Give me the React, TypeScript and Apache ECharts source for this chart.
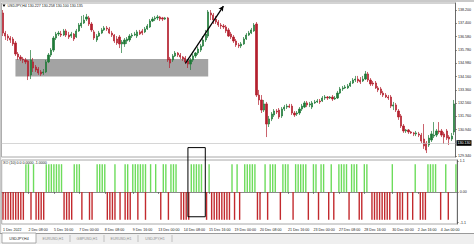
import { useEffect, useRef } from "react";
import * as echarts from "echarts";

const FONT = "'Liberation Sans', Arial, sans-serif";

const SYMBOL_TITLE = "USDJPY,H4 130.227 130.258 130.100 130.135";
const XO_TITLE = "XO (10) 0.0 0.0000 -1.0000";
const BID_PRICE = 130.13;

// H4 candles, oldest first
const OPEN = [
  138.02, 136.80, 136.62, 136.50, 136.44, 136.20, 135.53, 135.35, 135.23, 135.17,
  135.11, 134.26, 135.05, 134.74, 134.62, 134.44, 134.38, 134.44, 135.05, 135.47,
  135.77, 136.50, 136.74, 136.74, 136.68, 136.93, 136.68, 136.62, 136.74, 136.56,
  136.93, 137.23, 137.41, 137.65, 137.72, 137.35, 136.87, 136.38, 136.62, 136.80,
  136.99, 137.11, 137.05, 136.80, 136.68, 136.44, 136.56, 136.14, 136.14, 136.32,
  136.38, 136.62, 136.68, 136.62, 136.87, 136.93, 136.87, 137.05, 137.17, 137.53,
  137.65, 137.72, 137.78, 137.72, 137.65, 137.72, 135.23, 135.17, 135.41, 135.59,
  135.47, 135.35, 135.29, 135.11, 134.92, 135.17, 135.41, 135.59, 135.77, 136.02,
  136.38, 136.62, 138.02, 137.90, 137.65, 137.47, 137.29, 137.23, 137.17, 136.99,
  136.74, 136.56, 136.32, 136.08, 136.02, 136.14, 136.44, 136.68, 136.80, 136.93,
  137.35, 133.04, 132.74, 132.13, 132.50, 131.28, 131.59, 131.83, 132.07, 132.13,
  131.77, 132.19, 132.31, 132.37, 132.37, 131.95, 131.89, 131.95, 132.19, 132.31,
  132.56, 132.44, 132.31, 132.56, 132.62, 132.68, 132.68, 132.86, 132.92, 132.86,
  132.92, 132.80, 132.86, 133.16, 133.41, 133.47, 133.47, 133.59, 133.77, 133.95,
  134.01, 133.95, 133.89, 134.01, 134.32, 133.95, 133.77, 133.77, 133.47, 133.41,
  133.16, 133.04, 132.92, 132.92, 132.37, 132.44, 132.07, 131.77, 131.16, 130.86,
  130.92, 130.80, 130.74, 130.68, 130.68, 130.61, 130.37, 130.13, 130.01, 130.31,
  130.55, 130.61, 130.86, 130.86, 130.68, 130.86, 130.49, 130.37, 130.80,
];
const CLOSE = [
  136.80, 136.62, 136.50, 136.38, 136.14, 135.53, 135.35, 135.23, 135.17, 135.05,
  134.20, 135.17, 134.68, 134.56, 134.38, 134.32, 134.44, 135.05, 135.47, 135.77,
  136.50, 136.74, 136.80, 136.68, 136.93, 136.68, 136.56, 136.74, 136.44, 136.93,
  137.29, 137.41, 137.59, 137.78, 137.35, 136.99, 136.50, 136.62, 136.80, 136.99,
  137.11, 137.05, 136.80, 136.68, 136.32, 136.20, 136.14, 136.26, 136.38, 136.44,
  136.62, 136.68, 136.74, 136.87, 136.74, 136.80, 137.05, 137.23, 137.53, 137.65,
  137.72, 137.78, 137.65, 137.65, 137.72, 135.17, 134.98, 135.41, 135.59, 135.47,
  135.35, 135.23, 135.05, 134.92, 135.17, 135.41, 135.59, 135.83, 136.02, 136.38,
  136.74, 138.08, 137.90, 137.59, 137.47, 137.29, 137.23, 137.17, 136.93, 136.62,
  136.56, 136.32, 136.08, 136.02, 136.14, 136.44, 136.68, 136.80, 136.99, 137.29,
  133.04, 132.74, 132.13, 132.50, 131.28, 131.59, 131.89, 132.07, 132.01, 131.71,
  132.19, 132.31, 132.37, 132.31, 131.95, 131.83, 131.95, 132.19, 132.37, 132.56,
  132.44, 132.50, 132.56, 132.62, 132.68, 132.62, 132.86, 132.92, 132.86, 132.92,
  132.80, 132.86, 133.16, 133.41, 133.47, 133.53, 133.59, 133.77, 133.95, 134.01,
  133.89, 133.83, 134.01, 134.32, 133.95, 133.71, 133.71, 133.47, 133.35, 133.16,
  133.04, 132.92, 132.86, 132.37, 132.44, 132.13, 131.71, 131.16, 130.86, 130.92,
  130.80, 130.74, 130.68, 130.74, 130.61, 130.25, 129.95, 129.70, 130.43, 130.68,
  130.61, 130.86, 130.80, 130.61, 130.49, 130.43, 130.37, 130.55, 132.50,
];
const LOW = [
  136.62, 136.38, 136.32, 136.20, 136.02, 135.41, 135.17, 135.11, 134.98, 134.92,
  133.95, 134.01, 134.44, 134.44, 134.26, 134.20, 134.26, 134.38, 134.98, 135.35,
  135.65, 136.38, 136.62, 136.56, 136.62, 136.56, 136.44, 136.50, 136.32, 136.50,
  136.87, 137.11, 137.35, 137.53, 137.23, 136.87, 136.38, 136.26, 136.56, 136.74,
  136.93, 136.93, 136.74, 136.56, 136.20, 136.08, 135.89, 135.59, 135.96, 136.14,
  136.26, 136.50, 136.62, 136.50, 136.68, 136.68, 136.80, 136.99, 137.11, 137.47,
  137.53, 137.59, 137.53, 137.53, 137.59, 135.05, 134.68, 135.05, 135.35, 135.35,
  135.23, 135.11, 134.92, 134.68, 134.56, 135.05, 135.29, 135.47, 135.65, 135.96,
  136.26, 136.50, 137.59, 137.35, 137.35, 137.17, 137.05, 137.05, 136.80, 136.56,
  136.44, 136.20, 135.96, 135.89, 135.89, 136.08, 136.38, 136.62, 136.74, 136.87,
  132.92, 132.44, 131.95, 132.01, 130.49, 131.10, 131.46, 131.71, 131.89, 131.59,
  131.65, 132.07, 132.19, 132.25, 131.83, 131.71, 131.77, 131.83, 132.07, 132.25,
  132.31, 132.31, 132.19, 132.50, 132.56, 132.50, 132.62, 132.74, 132.74, 132.80,
  132.68, 132.74, 132.80, 133.10, 133.29, 133.41, 133.41, 133.53, 133.71, 133.83,
  133.77, 133.71, 133.83, 133.95, 133.83, 133.59, 133.59, 133.41, 133.22, 133.04,
  132.92, 132.86, 132.74, 132.25, 132.13, 132.01, 131.53, 131.04, 130.74, 130.74,
  130.68, 130.68, 130.55, 130.55, 130.49, 130.13, 129.77, 129.52, 129.89, 130.19,
  130.43, 130.49, 130.68, 130.49, 130.07, 130.31, 130.01, 130.25, 130.61,
];
const HIGH = [
  138.20, 136.93, 136.74, 136.62, 136.56, 136.32, 135.65, 135.47, 135.35, 135.29,
  135.17, 135.77, 135.29, 134.86, 134.74, 134.56, 134.62, 135.17, 135.59, 135.89,
  136.62, 136.87, 136.93, 136.93, 137.05, 137.05, 136.87, 136.87, 136.80, 137.05,
  137.41, 137.84, 137.90, 137.96, 137.84, 137.47, 136.99, 136.74, 136.93, 137.11,
  137.23, 137.23, 137.17, 136.93, 136.74, 136.62, 136.68, 136.38, 136.50, 136.56,
  136.74, 136.80, 136.87, 136.99, 136.99, 137.05, 137.17, 137.35, 137.65, 137.78,
  137.84, 137.90, 137.84, 137.78, 137.78, 137.78, 135.35, 135.53, 135.71, 135.65,
  135.59, 135.41, 135.41, 135.23, 135.29, 135.53, 135.65, 135.96, 136.14, 136.62,
  136.99, 138.20, 138.20, 138.02, 137.84, 137.59, 137.41, 137.35, 137.29, 137.11,
  136.87, 136.68, 136.44, 136.20, 136.26, 136.56, 136.80, 136.93, 137.11, 137.41,
  137.47, 133.35, 133.04, 132.74, 132.62, 131.77, 132.01, 132.19, 132.19, 132.25,
  132.31, 132.44, 132.50, 132.50, 132.50, 132.07, 132.07, 132.31, 132.50, 132.68,
  132.68, 132.62, 132.68, 132.74, 132.80, 132.80, 132.98, 133.04, 132.98, 132.98,
  133.04, 132.98, 133.29, 133.53, 133.59, 133.65, 133.71, 133.89, 134.07, 134.20,
  134.20, 134.13, 134.20, 134.50, 134.44, 134.07, 133.89, 133.89, 133.59, 133.53,
  133.29, 133.16, 133.04, 133.04, 132.62, 132.56, 132.19, 131.89, 131.28, 130.98,
  130.98, 130.86, 130.80, 130.86, 130.80, 130.74, 131.28, 130.25, 130.61, 130.86,
  131.40, 130.98, 131.40, 130.98, 130.80, 130.98, 130.61, 130.74, 132.74,
];

// XO indicator: bars where the up (+1) and down (-1) histograms are drawn
const XO_UP_BARS = [
  9, 10, 12, 17, 18, 19, 20, 21, 22, 23, 28, 29, 30, 37, 38, 39, 40, 44, 48, 49,
  51, 52, 53, 54, 55, 56, 58, 60, 63, 64, 66, 67, 68, 74, 75, 76, 77, 78, 81, 90,
  92, 95, 96, 97, 98, 99, 103, 105, 106, 107, 110, 111, 112, 115, 116, 117, 118,
  119, 122, 123, 125, 126, 129, 132, 133, 134, 135, 137, 138, 139, 142, 143, 153,
  162, 167, 168, 169, 170, 174, 178,
];
const XO_DOWN_BARS = [
  0, 1, 2, 3, 4, 5, 6, 7, 8, 11, 13, 14, 15, 16, 24, 25, 26, 27, 31, 34, 35, 41,
  42, 43, 44, 46, 48, 49, 50, 53, 56, 62, 65, 70, 71, 72, 73, 80, 82, 83, 84, 85,
  86, 87, 88, 89, 91, 93, 100, 101, 104, 109, 114, 120, 124, 128, 130, 136, 140,
  141, 145, 146, 147, 148, 149, 150, 151, 152, 155, 156, 157, 159, 161, 164, 165,
  166, 172, 175,
];
const XO_UP_VALUE = 1;
const XO_DOWN_VALUE = -1;

// axis ticks
const PRICE_TICKS = [138.2, 137.4, 136.58, 135.78, 134.98, 134.16, 133.36, 132.56, 131.76, 130.94, 129.34];
const XO_TICKS = [1.1, 0, -1.1];
const XO_TICK_LABELS = ["1.1", "0.00", "-1.1"];
const TIME_TICK_BARS = [0, 10, 20, 30, 40, 51, 61, 71, 81, 91, 101, 112, 122, 132, 142, 153, 163, 172];
const TIME_TICK_LABELS = [
  "1 Dec 2022", "2 Dec 08:00", "5 Dec 16:00", "7 Dec 00:00", "8 Dec 08:00", "9 Dec 16:00",
  "13 Dec 00:00", "14 Dec 08:00", "15 Dec 16:00", "19 Dec 00:00", "20 Dec 08:00", "21 Dec 16:00",
  "23 Dec 00:00", "27 Dec 08:00", "28 Dec 16:00", "30 Dec 00:00", "2 Jan 16:00", "4 Jan 00:00",
];

// drawn objects: support zone, breakout arrow, highlighted signal window
const ZONE_BARS = [5, 81];
const ZONE_PRICES = [135.23, 134.17];
const ARROW_BARS = [72, 87];
const ARROW_PRICES = [134.96, 138.44];
const FOCUS_BARS = [73, 79];
const FOCUS_TOP_PRICE = 129.85;
const FOCUS_BOTTOM_XO = -0.89;

const TABS = ["USDJPY,H4", "EURUSD,H1", "GBPUSD,H1", "EURUSD,H1", "USDJPY,H1"];

const UP_COLOR = "#1f7a38";
const DOWN_COLOR = "#b3202e";

export default function App() {
  const ref = useRef<HTMLDivElement>(null);

  useEffect(() => {
    if (!ref.current) return;
    const chart = echarts.init(ref.current, undefined, { renderer: "svg" });

    const bars = OPEN.map((_, i) => String(i));
    const candles = OPEN.map((o, i) => [o, CLOSE[i], LOW[i], HIGH[i]]);
    const upData = bars.map((_, i) => (XO_UP_BARS.includes(i) ? XO_UP_VALUE : null));
    const downData = bars.map((_, i) => (XO_DOWN_BARS.includes(i) ? XO_DOWN_VALUE : null));
    const isTimeTick = (i: number) => TIME_TICK_BARS.includes(i);

    const small = { fontSize: 3.6, fontFamily: FONT, color: "#222" };

    chart.setOption({
      animation: false,
      backgroundColor: "#ffffff",
      textStyle: { fontFamily: FONT },
      grid: [
        { left: 1.5, right: 16.8, top: 3, height: 154, show: true, borderColor: "#a8a8a8", borderWidth: 1 },
        { left: 1.5, right: 16.8, top: 160, height: 64, show: true, borderColor: "#a8a8a8", borderWidth: 1 },
      ],
      xAxis: [
        {
          type: "category", gridIndex: 0, data: bars, boundaryGap: true,
          axisLine: { show: false }, axisTick: { show: false }, axisLabel: { show: false }, splitLine: { show: false },
        },
        {
          type: "category", gridIndex: 1, data: bars, boundaryGap: true,
          axisLine: { show: true, lineStyle: { color: "#8a8a8a", width: 1 } },
          axisTick: { show: true, alignWithLabel: true, interval: (i: number) => isTimeTick(i), length: 2, lineStyle: { color: "#444", width: 0.6 } },
          axisLabel: {
            ...small, interval: (i: number) => isTimeTick(i), align: "left", margin: 3.5,
            formatter: (_v: string, i: number) => TIME_TICK_LABELS[TIME_TICK_BARS.indexOf(i)] ?? "",
          },
          splitLine: { show: false },
        },
      ],
      yAxis: [
        {
          type: "value", gridIndex: 0, position: "right", min: 129.28, max: 138.625,
          splitLine: { show: false },
          axisLine: { show: true, lineStyle: { color: "#6a6a6a", width: 1 } },
          axisTick: { show: true, customValues: PRICE_TICKS, length: 1.5, lineStyle: { color: "#444", width: 0.6 } },
          axisLabel: { ...small, customValues: PRICE_TICKS, margin: 2.5, formatter: (v: number) => v.toFixed(3) },
        },
        {
          type: "value", gridIndex: 1, position: "right", min: -1.15, max: 1.15,
          splitLine: { show: false },
          axisLine: { show: true, lineStyle: { color: "#6a6a6a", width: 1 } },
          axisTick: { show: true, customValues: XO_TICKS, length: 1.5, lineStyle: { color: "#444", width: 0.6 } },
          axisLabel: {
            ...small, customValues: XO_TICKS, margin: 2.5,
            formatter: (v: number) => XO_TICK_LABELS[XO_TICKS.findIndex((t) => Math.abs(t - v) < 1e-9)] ?? "",
          },
        },
      ],
      series: [
        {
          type: "candlestick", name: "USDJPY,H4", xAxisIndex: 0, yAxisIndex: 0, data: candles,
          barWidth: 1.7,
          itemStyle: { color: UP_COLOR, color0: DOWN_COLOR, borderColor: UP_COLOR, borderColor0: DOWN_COLOR, borderWidth: 0.7 },
          markArea: {
            silent: true,
            itemStyle: { color: "#a3a3a3" },
            data: [[{ coord: [ZONE_BARS[0], ZONE_PRICES[0]] }, { coord: [ZONE_BARS[1], ZONE_PRICES[1]] }]],
          },
          markLine: {
            silent: true,
            symbol: ["none", "none"],
            data: [
              {
                yAxis: BID_PRICE,
                lineStyle: { color: "#c4c4c4", width: 0.7, type: "solid" },
                label: {
                  show: true, position: "end", distance: 1, formatter: BID_PRICE.toFixed(3),
                  backgroundColor: "#000", color: "#fff", fontSize: 3.6, fontFamily: FONT, padding: [1, 1, 0.6, 1],
                },
              },
              [
                { coord: [ARROW_BARS[0], ARROW_PRICES[0]], symbol: "none" },
                { coord: [ARROW_BARS[1], ARROW_PRICES[1]], symbol: "arrow", symbolSize: [4, 5] },
              ].map((p) => ({ ...p, lineStyle: { color: "#000", width: 1.3, type: "solid" }, label: { show: false } })),
            ],
          },
        },
        {
          type: "bar", name: "XO up", xAxisIndex: 1, yAxisIndex: 1, data: upData,
          barWidth: 1.4, barGap: "-100%", itemStyle: { color: "#6ddc5b" },
        },
        {
          type: "bar", name: "XO down", xAxisIndex: 1, yAxisIndex: 1, data: downData,
          barWidth: 1.4, barGap: "-100%", itemStyle: { color: "#c22a2e" },
        },
      ],
    });

    // highlighted signal window spanning the price and indicator panes
    const half = (chart.convertToPixel({ gridIndex: 1 }, [1, 0])[0] - chart.convertToPixel({ gridIndex: 1 }, [0, 0])[0]) / 2;
    const topLeft = chart.convertToPixel({ gridIndex: 0 }, [FOCUS_BARS[0], FOCUS_TOP_PRICE]);
    const bottomRight = chart.convertToPixel({ gridIndex: 1 }, [FOCUS_BARS[1], FOCUS_BOTTOM_XO]);
    const fx0 = topLeft[0];
    const fy0 = topLeft[1];
    const fx1 = bottomRight[0] + half;
    const fy1 = bottomRight[1];

    const tabW = 34;
    const tabY = 233;
    const tabGraphics: any[] = [
      { type: "rect", z: 100, shape: { x: 0, y: tabY, width: 474, height: 11 }, style: { fill: "#efefef" } },
      { type: "line", z: 101, shape: { x1: 0, y1: tabY + 0.5, x2: 474, y2: tabY + 0.5 }, style: { stroke: "#9a9a9a", lineWidth: 1 } },
    ];
    TABS.forEach((t, i) => {
      const x = 2 + i * tabW;
      if (i === 0) {
        tabGraphics.push({ type: "rect", z: 102, shape: { x, y: tabY, width: tabW, height: 10 }, style: { fill: "#ffffff", stroke: "#9a9a9a", lineWidth: 0.8 } });
      } else {
        tabGraphics.push({ type: "line", z: 102, shape: { x1: x + tabW, y1: tabY + 2, x2: x + tabW, y2: tabY + 9 }, style: { stroke: "#b4b4b4", lineWidth: 0.8 } });
      }
      tabGraphics.push({
        type: "text", z: 103, x: x + tabW / 2, y: tabY + 5.5,
        style: { text: t, fontSize: 3.6, fontFamily: FONT, fill: i === 0 ? "#1a1a1a" : "#8c8c8c", align: "center", verticalAlign: "middle" },
      });
    });

    chart.setOption({
      graphic: [
        { type: "rect", z: 100, shape: { x: 0, y: 0, width: 474, height: 2 }, style: { fill: "#c9c9c9" } },
        { type: "rect", z: 100, shape: { x: 0, y: 0, width: 1.2, height: 233 }, style: { fill: "#c9c9c9" } },
        { type: "polygon", z: 100, shape: { points: [[2.5, 4.6], [5.5, 4.6], [4, 7]] }, style: { fill: "#000" } },
        {
          type: "text", z: 100, x: 7.5, y: 6,
          style: { text: SYMBOL_TITLE, fontSize: 3.6, fontFamily: FONT, fill: "#111", verticalAlign: "middle" },
        },
        {
          type: "text", z: 100, x: 3, y: 162.8,
          style: { text: XO_TITLE, fontSize: 3.6, fontFamily: FONT, fill: "#111", verticalAlign: "middle" },
        },
        {
          type: "rect", z: 100,
          shape: { x: fx0, y: fy0, width: fx1 - fx0, height: fy1 - fy0 },
          style: { fill: "none", stroke: "#000", lineWidth: 1 },
        },
        ...tabGraphics,
      ],
    });

    return () => chart.dispose();
  }, []);

  return <div ref={ref} style={{ position: "fixed", left: 0, top: 0, width: 474, height: 244 }} />;
}
